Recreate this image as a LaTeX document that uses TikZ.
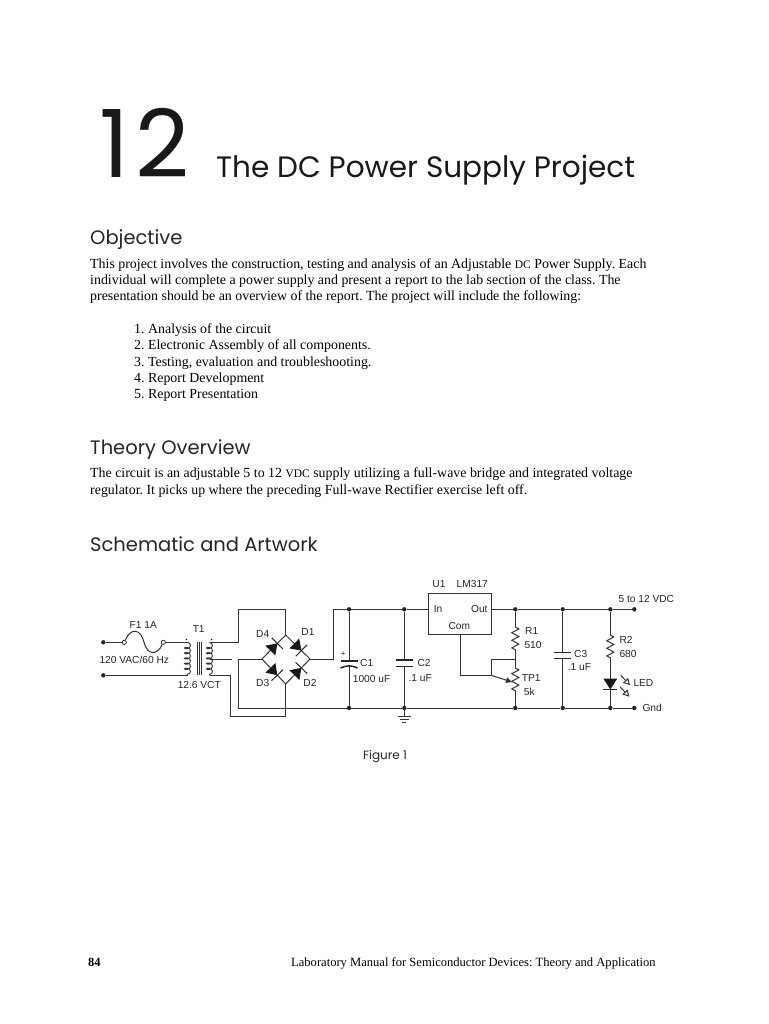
\documentclass[tikz,border=0pt]{standalone}
\usepackage{fontspec}
\setmainfont{Liberation Serif}
\newfontfamily\headfont{Poppins}
\newfontfamily\schemfont{Liberation Sans}
\usetikzlibrary{calc,arrows.meta,decorations.pathmorphing,decorations.pathreplacing}
\frenchspacing
\tikzset{
  pagetext/.style={anchor=base west,inner sep=0pt,font=\fontsize{13.9}{14}\selectfont,text=black},
  heading/.style={anchor=base west,inner sep=0pt,font=\headfont\fontsize{19.5}{20}\selectfont,text=black!85},
  lab/.style={inner sep=0pt,font=\schemfont\fontsize{10.2}{10}\selectfont,text=black!85},
  labw/.style={lab,anchor=west},
  wire/.style={draw=black!80,line width=1pt,line join=miter},
  dotn/.style={circle,fill=black!85,inner sep=0pt,minimum size=4.4pt},
  opent/.style={circle,draw=black!80,fill=white,line width=0.8pt,inner sep=0pt,minimum size=4.2pt},
  resist/.style={wire,decorate,decoration={zigzag,amplitude=3.5pt,segment length=7.6pt}},
  coilw/.style={wire,line width=0.9pt,decorate,decoration={coil,aspect=0.6,segment length=5.2pt,amplitude=3pt}},
  plate/.style={draw=black!85,line width=1.5pt},
}
\newcommand{\diodesym}[2]{%
  \coordinate (dm) at ($(#1)!.5!(#2)$);
  \coordinate (dt) at ($(dm)!5pt!(#2)$);
  \coordinate (db) at ($(dm)!-5pt!(#2)$);
  \fill[black!90] ($(db)!7pt!90:(#2)$) -- (dt) -- ($(db)!7pt!-90:(#2)$) -- cycle;
  \draw[draw=black!85,line width=1pt] ($(dt)!8pt!90:(#2)$) -- ($(dt)!8pt!-90:(#2)$);
}
\begin{document}
\begin{tikzpicture}[x=1pt,y=-1pt]
\useasboundingbox (0,0) rectangle (768,1024);
\fill[white] (0,0) rectangle (768,1024);
% page text
\node[anchor=base west,inner sep=0pt,font=\headfont\fontsize{94}{95}\selectfont,text=black!90] (chap) at (99,178) {1\hspace{6pt}2};
\node[anchor=base west,inner sep=0pt,font=\headfont\fontsize{29.5}{30}\selectfont,text=black!90] (title) at (216,178) {The DC Power Supply Project};
\node[heading] (h1) at (90,244) {Objective};
\node[pagetext] (p1) at (90,268) {This project involves the construction, testing and analysis of an Adjustable {\fontsize{11.5}{12}\selectfont DC} Power Supply. Each};
\node[pagetext] (p2) at (90,284) {individual will complete a power supply and present a report to the lab section of the class. The};
\node[pagetext] (p3) at (90,300) {presentation should be an overview of the report. The project will include the following:};
\node[pagetext] (l1) at (134,333) {1. Analysis of the circuit};
\node[pagetext] (l2) at (134,349) {2. Electronic Assembly of all components.};
\node[pagetext] (l3) at (134,366) {3. Testing, evaluation and troubleshooting.};
\node[pagetext] (l4) at (134,382) {4. Report Development};
\node[pagetext] (l5) at (134,398) {5. Report Presentation};
\node[heading] (h2) at (90,454) {Theory Overview};
\node[pagetext] (t1) at (90,477) {The circuit is an adjustable 5 to 12 {\fontsize{11.5}{12}\selectfont VDC} supply utilizing a full-wave bridge and integrated voltage};
\node[pagetext] (t2) at (90,494) {regulator. It picks up where the preceding Full-wave Rectifier exercise left off.};
\node[heading] (h3) at (90,551) {Schematic and Artwork};
\node[anchor=base,inner sep=0pt,font=\headfont\fontsize{12}{12}\selectfont,text=black!85] (fig) at (385,759) {Figure 1};
\node[pagetext,font=\bfseries\fontsize{12.5}{13}\selectfont] (pg) at (88,966) {84};
\node[pagetext,font=\fontsize{12.56}{13}\selectfont] (foot) at (291,966) {Laboratory Manual for Semiconductor Devices: Theory and Application};
% schematic points
\node[dotn] (inA) at (103.3,642.3) {};
\node[dotn] (inB) at (103.3,675.3) {};
\node[opent] (fa) at (124.3,642.3) {};
\node[opent] (fb) at (163.3,642.3) {};
\coordinate (pt) at (187.5,642.3);
\coordinate (pb) at (187.5,675.3);
\coordinate (st) at (209.5,642.3);
\coordinate (sb) at (209.5,675.3);
\coordinate (ct) at (209.5,659);
\coordinate (ctEnd) at (231.7,659);
\coordinate (a1) at (238.3,642.3);
\coordinate (a2) at (238.3,609.3);
\coordinate (a3) at (285.7,609.3);
\coordinate (brT) at (285.7,635);
\coordinate (brR) at (310,659);
\coordinate (brB) at (285.7,684);
\coordinate (brL) at (262,659);
\coordinate (b1) at (230.3,675.3);
\coordinate (b2) at (230.3,716.3);
\coordinate (b3) at (285.7,716.3);
\coordinate (g1) at (238.3,659);
\coordinate (g2) at (238.3,708);
\coordinate (r1) at (333.3,659);
\coordinate (r2) at (333.3,609.3);
\node[dotn] (c1t) at (349,609.3) {};
\node[dotn] (c1b) at (349,708) {};
\node[dotn] (c2t) at (404.3,609.3) {};
\node[dotn] (c2b) at (404.3,708) {};
\node[dotn] (r1t) at (515.3,609.3) {};
\node[dotn] (r1b) at (515.3,708) {};
\node[dotn] (c3t) at (562.7,609.3) {};
\node[dotn] (c3b) at (562.7,708) {};
\node[dotn] (r2t) at (610.3,609.3) {};
\node[dotn] (r2b) at (610.3,708) {};
\node[dotn] (outT) at (634.3,609.3) {};
\node[dotn] (outB) at (634.3,708) {};
\node[draw=black!80,line width=1pt,minimum width=62.7pt,minimum height=40.7pt,inner sep=0pt] (u1) at (459.65,613.65) {};
\coordinate (uIn) at (428.3,609.3);
\coordinate (uOut) at (491,609.3);
\coordinate (uCom) at (460,634);
\coordinate (com2) at (460,675.3);
\coordinate (wip) at (491,675.3);
\coordinate (wipT) at (491,659);
\coordinate (jn) at (515.3,659);
\coordinate (wipEnd) at (512,682);
% wiring
\draw[wire] (inA) -- (fa);
\draw[wire] (fb) -- (pt);
\draw[wire] (inB) -- (pb);
\draw[wire] (st) -- (a1) -- (a2) -- (a3) -- (brT);
\draw[wire] (ct) -- (ctEnd);
\draw[wire] (sb) -- (b1) -- (b2) -- (b3) -- (brB);
\draw[wire] (brT) -- (brR) -- (brB) -- (brL) -- cycle;
\draw[wire] (brL) -- (g1) -- (g2) -- (c1b) -- (c2b) -- (r1b) -- (c3b) -- (r2b) -- (outB);
\draw[wire] (brR) -- (r1) -- (r2) -- (c1t) -- (c2t) -- (uIn);
\draw[wire] (uOut) -- (r1t) -- (c3t) -- (r2t) -- (outT);
% fuse
\draw[wire] (fa) .. controls (131,627) and (141,629) .. (144,642.3) .. controls (147,655) and (157,656) .. (fb);
% transformer
\draw[coilw] (pt) -- (pb);
\draw[coilw] (st) -- (sb);
\foreach \cx in {197,199,201}{\draw[draw=black!80,line width=0.8pt] (\cx,642.3) -- (\cx,675.3);}
\fill[black!85] (186.5,639.5) circle (0.9pt);
\fill[black!85] (211.5,639.5) circle (0.9pt);
% diodes
\diodesym{brT}{brR}
\diodesym{brB}{brR}
\diodesym{brL}{brT}
\diodesym{brL}{brB}
% C1
\coordinate (c1p) at (349,661);
\coordinate (c1q) at (349,666);
\draw[wire] (c1t) -- (c1p);
\draw[wire] (c1q) -- (c1b);
\draw[plate] ($(c1p)+(-8.5,0)$) -- ($(c1p)+(8.5,0)$);
\draw[plate] ($(c1q)+(-8.5,2)$) .. controls ($(c1q)+(-3,-0.8)$) and ($(c1q)+(3,-0.8)$) .. ($(c1q)+(8.5,2)$);
\node[lab,font=\schemfont\fontsize{8}{8}\selectfont] (plus) at (343.3,654) {+};
% C2
\coordinate (c2p) at (404.3,660);
\coordinate (c2q) at (404.3,666.7);
\draw[wire] (c2t) -- (c2p);
\draw[wire] (c2q) -- (c2b);
\draw[plate] ($(c2p)+(-8.5,0)$) -- ($(c2p)+(8.5,0)$);
\draw[plate] ($(c2q)+(-8.5,0)$) -- ($(c2q)+(8.5,0)$);
% ground
\coordinate (gnd) at (404.3,716.7);
\draw[wire] (c2b) -- (gnd);
\draw[draw=black!80,line width=0.8pt] ($(gnd)+(-6.5,0)$) -- ($(gnd)+(6.5,0)$);
\draw[draw=black!80,line width=0.8pt] ($(gnd)+(-4.5,2.7)$) -- ($(gnd)+(4.5,2.7)$);
\draw[draw=black!80,line width=0.8pt] ($(gnd)+(-2,5.4)$) -- ($(gnd)+(2,5.4)$);
% C3
\coordinate (c3p) at (562.7,652.7);
\coordinate (c3q) at (562.7,658.5);
\draw[wire] (c3t) -- (c3p);
\draw[wire] (c3q) -- (c3b);
\draw[plate] ($(c3p)+(-8.5,0)$) -- ($(c3p)+(8.5,0)$);
\draw[plate] ($(c3q)+(-8.5,0)$) -- ($(c3q)+(8.5,0)$);
% R1, pot
\coordinate (r1u) at (515.3,627);
\coordinate (r1l) at (515.3,650);
\coordinate (potu) at (515.3,668);
\coordinate (potl) at (515.3,693);
\draw[wire] (r1t) -- (r1u);
\draw[resist] (r1u) -- (r1l);
\draw[wire] (r1l) -- (potu);
\draw[resist] (potu) -- (potl);
\draw[wire] (potl) -- (r1b);
\draw[wire] (uCom) -- (com2) -- (wip);
\draw[wire] (wipT) -- (jn);
\draw[wire] (wipT) -- (wip);
\draw[wire,-{Triangle[length=6pt,width=5.5pt]}] (wip) -- (wipEnd);
% R2, LED
\coordinate (r2u) at (610.3,635);
\coordinate (r2l) at (610.3,658.5);
\coordinate (ledA) at (610.3,678.5);
\coordinate (ledK) at (610.3,689.5);
\draw[wire] (r2t) -- (r2u);
\draw[resist] (r2u) -- (r2l);
\draw[wire] (r2l) -- (ledA);
\draw[wire] (ledK) -- (r2b);
\fill[black!90] ($(ledA)+(-7,0)$) -- ($(ledA)+(7,0)$) -- (ledK) -- cycle;
\draw[draw=black!85,line width=1pt] ($(ledK)+(-7,0)$) -- ($(ledK)+(7,0)$);
\coordinate (la1) at (620.7,675.3);
\coordinate (la2) at (630,685);
\coordinate (lb1) at (620,686.7);
\coordinate (lb2) at (629.3,696.7);
\draw[wire,-{Triangle[open,length=6.5pt,width=7pt]}] (la1) -- (la2);
\draw[wire,-{Triangle[open,length=6.5pt,width=7pt]}] (lb1) -- (lb2);
% labels
\node[lab] (lF) at (143.3,625) {F1 1A};
\node[lab] (lV) at (134.3,660) {120 VAC/60 Hz};
\node[lab] (lT) at (198.7,629) {T1};
\node[lab] (lVCT) at (199.3,685) {12.6 VCT};
\node[lab] (lD4) at (262.7,634) {D4};
\node[lab] (lD1) at (308,632.3) {D1};
\node[lab] (lD3) at (262.7,683.3) {D3};
\node[lab] (lD2) at (310,683.3) {D2};
\node[labw] (lC1) at (360,663.3) {C1};
\node[labw] (lC1v) at (352.7,678.7) {1000 uF};
\node[lab] (lU1) at (439,584) {U1};
\node[lab] (lLM) at (472.3,584) {LM317};
\node[lab] (lIn) at (438,609.3) {In};
\node[lab] (lOut) at (479.3,609.3) {Out};
\node[lab] (lCom) at (459.3,625.7) {Com};
\node[labw] (lR1) at (525,631) {R1};
\node[labw] (lR1v) at (524.3,645) {510};
\node[labw] (lTP) at (521.7,678.3) {TP1};
\node[labw] (lTPv) at (523.7,691.7) {5k};
\node[labw] (lC2) at (417.3,663.3) {C2};
\node[labw] (lC2v) at (408.3,677.7) {.1 uF};
\node[labw] (lC3) at (574,654.3) {C3};
\node[labw] (lC3v) at (567.7,667.3) {.1 uF};
\node[labw] (lR2) at (619.3,640.3) {R2};
\node[labw] (lR2v) at (619.3,654) {680};
\node[labw] (lLED) at (633.3,683.3) {LED};
\node[labw] (lGnd) at (642.3,708) {Gnd};
\node[labw] (lOutV) at (618.3,599.3) {5 to 12 VDC};
\end{tikzpicture}
\end{document}
